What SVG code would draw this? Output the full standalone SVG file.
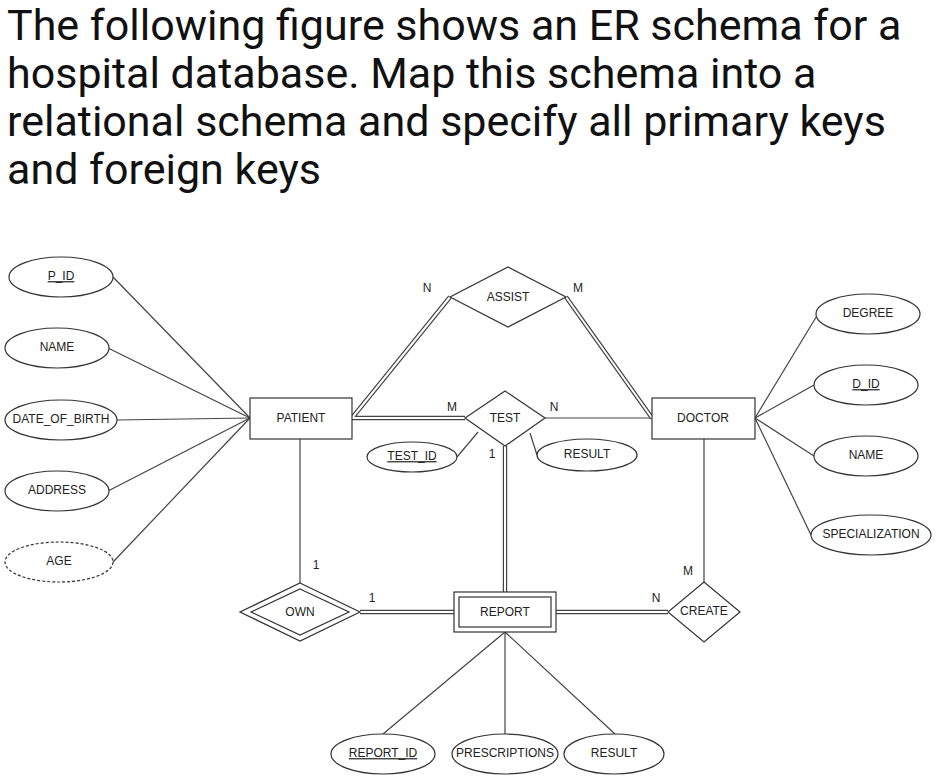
<svg xmlns="http://www.w3.org/2000/svg" width="937" height="783" viewBox="0 0 937 783">
<style>
.t{font-family:Roboto,"Liberation Sans",sans-serif;font-size:43px;fill:#111}
.l{font-family:"Liberation Sans",Arial,sans-serif;font-size:12px;fill:#222;text-anchor:middle;dominant-baseline:middle}
.s{fill:#fff;stroke:#333;stroke-width:1.2}
.c{stroke:#444;stroke-width:1.2;fill:none}
.d1{stroke:#444;stroke-width:4.4;fill:none}
.d2{stroke:#fff;stroke-width:2;fill:none}
</style>
<rect width="937" height="783" fill="#fff"/>
<text class="t" x="7" y="40">The following figure shows an ER schema for a</text>
<text class="t" x="7" y="88">hospital database. Map this schema into a</text>
<text class="t" x="7" y="136">relational schema and specify all primary keys</text>
<text class="t" x="7" y="184">and foreign keys</text>
<g id="connectors">
<line class="c" x1="113" y1="277" x2="250" y2="418"/>
<line class="c" x1="108" y1="348" x2="250" y2="418"/>
<line class="c" x1="117" y1="420" x2="250" y2="418"/>
<line class="c" x1="108" y1="491" x2="250" y2="418"/>
<line class="c" x1="113" y1="562" x2="250" y2="418"/>
<line class="c" x1="755" y1="418" x2="818" y2="314"/>
<line class="c" x1="755" y1="418" x2="814" y2="385"/>
<line class="c" x1="755" y1="418" x2="814" y2="456"/>
<line class="c" x1="755" y1="418" x2="811" y2="535"/>
<line class="c" x1="545" y1="418" x2="652" y2="418"/>
<line class="c" x1="457" y1="457" x2="478" y2="432"/>
<line class="c" x1="537" y1="455" x2="530" y2="433"/>
<line class="c" x1="300" y1="439" x2="300" y2="583"/>
<line class="c" x1="704" y1="439" x2="704" y2="582"/>
<line class="c" x1="505" y1="632" x2="383" y2="734"/>
<line class="c" x1="505" y1="632" x2="505" y2="734"/>
<line class="c" x1="505" y1="632" x2="615" y2="734"/>
<g>
<path class="d1" d="M352 418L450 297M566 297L652 418M352 418L465 418M505 446L505 592M360 612L454 612M556 612L668 612"/>
<path class="d2" d="M352 418L450 297M566 297L652 418M352 418L465 418M505 446L505 592M360 612L454 612M556 612L668 612"/>
</g>
</g>
<g id="p_id"><ellipse class="s" cx="61" cy="277" rx="52" ry="20"/><text class="l" x="61" y="277" text-decoration="underline">P_ID</text></g>
<g id="name_p"><ellipse class="s" cx="57" cy="348" rx="52" ry="20"/><text class="l" x="57" y="348">NAME</text></g>
<g id="dob"><ellipse class="s" cx="61" cy="420" rx="56" ry="20"/><text class="l" x="61" y="420">DATE_OF_BIRTH</text></g>
<g id="address"><ellipse class="s" cx="57" cy="491" rx="52" ry="20"/><text class="l" x="57" y="491">ADDRESS</text></g>
<g id="age"><ellipse class="s" cx="59" cy="562" rx="54" ry="20" stroke-dasharray="3,2"/><text class="l" x="59" y="562">AGE</text></g>
<g id="patient"><rect class="s" x="250" y="398" width="102" height="41"/><text class="l" x="301" y="419">PATIENT</text></g>
<g id="assist"><polygon class="s" points="508,267 566,297 508,327 450,297"/><text class="l" x="508" y="298">ASSIST</text></g>
<g id="test"><polygon class="s" points="505,391 545,418 505,446 465,418"/><text class="l" x="505" y="419">TEST</text></g>
<g id="doctor"><rect class="s" x="652" y="398" width="103" height="41"/><text class="l" x="703" y="419">DOCTOR</text></g>
<g id="test_id"><ellipse class="s" cx="412" cy="457" rx="45" ry="15"/><text class="l" x="412" y="457" text-decoration="underline">TEST_ID</text></g>
<g id="result_t"><ellipse class="s" cx="587" cy="455" rx="50" ry="16"/><text class="l" x="587" y="455">RESULT</text></g>
<g id="degree"><ellipse class="s" cx="868" cy="314" rx="52" ry="20"/><text class="l" x="868" y="314">DEGREE</text></g>
<g id="d_id"><ellipse class="s" cx="866" cy="385" rx="52" ry="20"/><text class="l" x="866" y="385" text-decoration="underline">D_ID</text></g>
<g id="name_d"><ellipse class="s" cx="866" cy="456" rx="52" ry="20"/><text class="l" x="866" y="456">NAME</text></g>
<g id="spec"><ellipse class="s" cx="871" cy="535" rx="60" ry="20"/><text class="l" x="871" y="535">SPECIALIZATION</text></g>
<g id="own"><polygon class="s" points="300,583 360,612 300,641 240,612"/><polygon class="s" points="300,589 349,612 300,635 251,612"/><text class="l" x="300" y="613">OWN</text></g>
<g id="report"><rect class="s" x="454" y="592" width="102" height="40"/><rect class="s" x="459" y="597" width="92" height="30"/><text class="l" x="505" y="613">REPORT</text></g>
<g id="create"><polygon class="s" points="704,582 740,612 704,642 668,612"/><text class="l" x="704" y="612">CREATE</text></g>
<g id="report_id"><ellipse class="s" cx="383" cy="754" rx="52" ry="20"/><text class="l" x="383" y="754" text-decoration="underline">REPORT_ID</text></g>
<g id="presc"><ellipse class="s" cx="505" cy="754" rx="53" ry="20"/><text class="l" x="505" y="754">PRESCRIPTIONS</text></g>
<g id="result_r"><ellipse class="s" cx="614" cy="754" rx="50" ry="20"/><text class="l" x="614" y="754">RESULT</text></g>
<g id="labels">
<text class="l" x="427" y="289">N</text><text class="l" x="578" y="289">M</text>
<text class="l" x="452" y="408">M</text><text class="l" x="554" y="408">N</text>
<text class="l" x="492" y="455">1</text><text class="l" x="316" y="566">1</text>
<text class="l" x="372" y="599">1</text><text class="l" x="656" y="599">N</text>
<text class="l" x="688" y="572">M</text>
</g>
</svg>
